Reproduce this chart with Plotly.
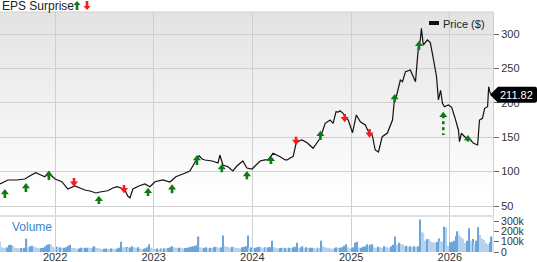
import base64
import pandas as pd
import plotly.graph_objects as go

# ---------------- data ----------------
price_dates = [
    "2021-06-11", "2021-07-10", "2021-08-12", "2021-09-11", "2021-09-29", "2021-10-21", "2021-11-09",
    "2021-11-24", "2021-12-09", "2021-12-20", "2022-01-01", "2022-01-26", "2022-02-17", "2022-03-15",
    "2022-04-03", "2022-04-21", "2022-05-10", "2022-06-01", "2022-06-16", "2022-07-01", "2022-07-15",
    "2022-08-03", "2022-08-18", "2022-09-02", "2022-09-16", "2022-09-27", "2022-10-05", "2022-10-16",
    "2022-11-07", "2022-11-29", "2022-12-18", "2023-01-06", "2023-01-20", "2023-02-04", "2023-03-02",
    "2023-03-24", "2023-04-19", "2023-05-15", "2023-06-03", "2023-06-18", "2023-06-29", "2023-07-10",
    "2023-08-05", "2023-08-27", "2023-09-03", "2023-09-14", "2023-10-03", "2023-10-21", "2023-11-05",
    "2023-11-16", "2023-11-27", "2023-12-12", "2023-12-31", "2024-01-15", "2024-01-30", "2024-02-17",
    "2024-02-28", "2024-03-18", "2024-04-02", "2024-04-13", "2024-05-02", "2024-05-09", "2024-05-20",
    "2024-05-31", "2024-06-11", "2024-06-22", "2024-07-03", "2024-07-22", "2024-08-13", "2024-08-28",
    "2024-09-08", "2024-09-27", "2024-10-15", "2024-10-26", "2024-11-06", "2024-11-14", "2024-11-21",
    "2024-12-02", "2024-12-21", "2025-01-06", "2025-01-20", "2025-02-04", "2025-02-22", "2025-03-06",
    "2025-03-20", "2025-03-31", "2025-04-12", "2025-04-26", "2025-05-15", "2025-06-03", "2025-06-10",
    "2025-06-17", "2025-07-02", "2025-07-10", "2025-07-21", "2025-08-08", "2025-08-19", "2025-08-27",
    "2025-09-07", "2025-09-14", "2025-09-18", "2025-09-25", "2025-10-10", "2025-10-21", "2025-11-02",
    "2025-11-13", "2025-11-20", "2025-11-28", "2025-12-05", "2025-12-12", "2025-12-27", "2026-01-08",
    "2026-01-19", "2026-02-02", "2026-02-06", "2026-02-13", "2026-02-25", "2026-03-08", "2026-03-19",
    "2026-03-30", "2026-04-14", "2026-04-21", "2026-05-02", "2026-05-10", "2026-05-21", "2026-05-25",
    "2026-05-29", "2026-06-05",
]
price_values = [
    82.0, 87.8, 87.8, 89.2, 93.6, 98.4, 95.1,
    92.6, 99.9, 93.6, 89.2, 85.3, 74.7, 79.1,
    76.2, 73.3, 71.8, 68.9, 70.3, 71.8, 72.2,
    76.2, 78.1, 76.2, 73.3, 64.5, 61.6, 74.7,
    79.1, 82.0, 78.1, 85.3, 86.3, 87.8, 84.9,
    92.6, 96.5, 100.9, 114.0, 123.1, 118.3, 116.9,
    115.4, 112.5, 124.1, 109.6, 107.1, 100.9, 108.1,
    112.5, 115.4, 105.2, 103.8, 109.6, 115.4, 116.9,
    116.9, 126.6, 124.1, 121.7, 116.9, 116.9, 119.8,
    121.7, 141.1, 144.5, 145.9, 142.0, 133.9, 141.6,
    148.4, 170.2, 175.0, 170.2, 187.1, 186.6, 188.5,
    184.7, 175.0, 156.5, 182.3, 172.5, 167.7, 158.0,
    153.2, 131.4, 128.5, 150.7, 156.1, 175.0, 204.1,
    208.9, 233.1, 230.7, 245.2, 247.7, 237.9, 230.7,
    281.5, 291.3, 308.3, 284.0, 291.3, 287.4, 262.2,
    237.9, 204.1, 218.2, 199.3, 194.3, 196.8, 193.5,
    179.8, 160.5, 143.5, 155.7, 150.7, 148.4, 145.9,
    141.1, 138.7, 175.0, 177.5, 192.0, 194.3, 223.4,
    216.1, 211.82,
]
last_price = 211.82

eps_dates = ["2021-06-29", "2021-09-15", "2021-12-09", "2022-03-12", "2022-06-12", "2022-09-13",
             "2022-12-11", "2023-03-10", "2023-06-10", "2023-09-10", "2023-12-12", "2024-03-10",
             "2024-06-11", "2024-09-09", "2024-12-08", "2025-03-10", "2025-06-11", "2025-09-09",
             "2025-12-08", "2026-03-09"]
eps_tip = [74.7, 83.4, 100.9, 78.1, 65.0, 68.5, 76.6, 81.5, 124.1, 111.0, 100.9, 123.1,
           138.7, 159.4, 171.7, 149.3, 212.8, 290.3, 187.1, 153.2]
eps_base = [61.6, 70.3, 87.8, 90.7, 52.9, 80.5, 64.5, 68.5, 109.6, 99.0, 88.8, 111.0,
            150.7, 145.9, 183.7, 161.9, 201.2, 276.7, 153.2, 140.1]
eps_beat = [True, True, True, False, True, False, True, True, True, True, True, True,
            False, True, False, False, True, True, True, True]
eps_dashed = [False] * 18 + [True, True]

volume_start = "2021-06-11"
volumes_k = [
    100, 45, 38, 35, 45, 67, 70, 60, 40, 38,
    35, 38, 36, 40, 130, 45, 55, 60, 50, 45,
    38, 35, 38, 40, 55, 70, 75, 72, 50, 35,
    50, 40, 45, 38, 40, 45, 60, 70, 40, 38,
    35, 30, 35, 40, 38, 40, 42, 40, 38, 45,
    55, 40, 38, 35, 30, 32, 35, 30, 28, 35,
    32, 30, 35, 40, 100, 45, 45, 48, 40, 45,
    55, 45, 40, 45, 35, 30, 32, 35, 45, 75,
    40, 35, 30, 35, 30, 35, 32, 35, 35, 38,
    45, 55, 45, 40, 38, 42, 40, 35, 38, 40,
    45, 50, 55, 60, 65, 150, 45, 40, 42, 45,
    35, 40, 38, 45, 50, 48, 40, 45, 160, 55,
    50, 45, 40, 50, 45, 40, 38, 35, 45, 50,
    55, 160, 40, 45, 38, 40, 45, 50, 45, 42,
    45, 42, 45, 48, 110, 45, 40, 35, 38, 40,
    35, 40, 35, 42, 38, 45, 50, 90, 42, 45,
    55, 40, 45, 38, 40, 42, 38, 35, 40, 38,
    110, 55, 45, 42, 40, 35, 32, 38, 45, 40,
    42, 45, 60, 75, 45, 35, 40, 45, 90, 100,
    40, 42, 50, 55, 75, 60, 70, 75, 45, 40,
    50, 45, 40, 55, 50, 45, 40, 55, 70, 150,
    70, 90, 80, 70, 55, 60, 50, 55, 50, 55,
    50, 55, 315, 190, 185, 110, 125, 125, 100, 95,
    90, 100, 130, 105, 100, 245, 240, 60, 95, 100,
    110, 155, 200, 160, 145, 125, 90, 110, 230, 110,
    125, 75, 110, 240, 165, 130, 115, 90, 75, 95, 150,
]
price_ticks = [50, 100, 150, 200, 250, 300]
volume_ticks = [0, 100000, 200000, 300000]
volume_ticktext = ["0", "100k", "200k", "300k"]

# ---------------- layout constants ----------------
W, H = 537, 262
ML, MR, MT, MB = 0, 44, 12, 10
PLOT_H = H - MT - MB
PRICE_BOTTOM_PX = 215
VOL_TOP_PX = 217
price_dom = [(H - MB - PRICE_BOTTOM_PX) / PLOT_H, 1.0]
vol_dom = [0.0, (H - MB - VOL_TOP_PX) / PLOT_H]
Y_RANGE = [36.92, 331.98]
V_RANGE = [0, 338700]
X_RANGE = ["2021-06-11", "2026-06-10"]
price_px = PRICE_BOTTOM_PX - MT
k = (Y_RANGE[1] - Y_RANGE[0]) / price_px  # price units per pixel

FONT = "Liberation Sans, Arial, sans-serif"
GRID = "#cfcfcf"
GREEN = "#0b7d12"
RED = "#f41c1c"

fig = go.Figure()

# price line
fig.add_trace(go.Scatter(x=price_dates, y=price_values, mode="lines",
                         line=dict(color="#111111", width=1.2), xaxis="x", yaxis="y",
                         hoverinfo="skip", showlegend=False))

# EPS arrows
HEAD_OFF = 3.5
groups = {
    "up_solid": dict(color=GREEN, dash="solid", sym="triangle-up"),
    "up_dash": dict(color=GREEN, dash="dot", sym="triangle-up"),
    "down_solid": dict(color=RED, dash="solid", sym="triangle-down"),
}
for key, st in groups.items():
    sx, sy, hx, hy = [], [], [], []
    for d, t, b, beat, dashed in zip(eps_dates, eps_tip, eps_base, eps_beat, eps_dashed):
        g = ("up_dash" if dashed else "up_solid") if beat else "down_solid"
        if g != key:
            continue
        sgn = 1 if beat else -1
        center = t - sgn * HEAD_OFF * k
        sx += [d, d, None]
        sy += [center, b, None]
        hx.append(d)
        hy.append(center)
    if not hx:
        continue
    fig.add_trace(go.Scatter(x=sx, y=sy, mode="lines",
                             line=dict(color=st["color"], width=2.6, dash=st["dash"]),
                             xaxis="x", yaxis="y", hoverinfo="skip", showlegend=False))
    fig.add_trace(go.Scatter(x=hx, y=hy, mode="markers",
                             marker=dict(symbol=st["sym"], size=7, color=st["color"], line=dict(width=0)),
                             xaxis="x", yaxis="y", hoverinfo="skip", showlegend=False))

# volume bars
vol_dates = pd.date_range(volume_start, periods=len(volumes_k), freq="7D")
vol = [v * 1000 for v in volumes_k]
colors = ["#b7d2ec"] + ["#6aa6dc" if volumes_k[i] > volumes_k[i - 1] else "#b7d2ec"
                         for i in range(1, len(volumes_k))]
fig.add_trace(go.Bar(x=vol_dates, y=vol, marker=dict(color=colors, line=dict(width=0)),
                     xaxis="x2", yaxis="y2", hoverinfo="skip", showlegend=False))

# gradient background for price panel
svg = ('<svg xmlns="http://www.w3.org/2000/svg" width="10" height="100" preserveAspectRatio="none">'
       '<defs><linearGradient id="g" x1="0" y1="0" x2="0" y2="1">'
       '<stop offset="0" stop-color="#e3e3e3"/><stop offset="0.92" stop-color="#ffffff"/>'
       '</linearGradient></defs><rect width="10" height="100" fill="url(#g)"/></svg>')
src = "data:image/svg+xml;base64," + base64.b64encode(svg.encode()).decode()

fig.update_layout(
    width=W, height=H,
    margin=dict(l=ML, r=MR, t=MT, b=MB, pad=0, autoexpand=False),
    paper_bgcolor="white", plot_bgcolor="rgba(0,0,0,0)",
    font=dict(family=FONT, size=11, color="#333333"),
    showlegend=False, bargap=0.3,
    images=[dict(source=src, xref="paper", yref="paper", x=0, y=1, sizex=1,
                 sizey=price_dom[1] - price_dom[0], xanchor="left", yanchor="top",
                 sizing="stretch", layer="below")],
    xaxis=dict(domain=[0, 1], anchor="y", range=X_RANGE, type="date", automargin=False,
               showticklabels=False, ticks="", showgrid=True, gridcolor=GRID, gridwidth=1,
               tick0="2022-01-01", dtick="M12", zeroline=False,
               showline=True, linecolor="#dedede", linewidth=2),
    xaxis2=dict(domain=[0, 1], anchor="y2", range=X_RANGE, type="date", matches="x",
                automargin=False, showticklabels=True, tickformat="%Y", ticks="",
                ticklabelstandoff=-3, showgrid=True,
                gridcolor=GRID, gridwidth=1, tick0="2022-01-01", dtick="M12",
                zeroline=False, showline=False,
                tickfont=dict(family=FONT, size=11, color="#333333")),
    yaxis=dict(domain=price_dom, anchor="x", side="right", range=Y_RANGE, automargin=False,
               tickvals=price_ticks, showgrid=True, gridcolor=GRID, gridwidth=1,
               ticks="outside", ticklen=5, tickcolor="#666666", zeroline=False,
               showline=True, mirror=True, linecolor=GRID, linewidth=1,
               tickfont=dict(family=FONT, size=11, color="#333333")),
    yaxis2=dict(domain=vol_dom, anchor="x2", side="right", range=V_RANGE, automargin=False,
                tickvals=volume_ticks, ticktext=volume_ticktext, showgrid=False,
                ticks="outside", ticklen=5, tickcolor="#666666", zeroline=False,
                showline=True, linecolor="#dddddd", linewidth=1,
                tickfont=dict(family=FONT, size=10.5, color="#333333")),
)

shapes = []
# top frame line of price panel
shapes.append(dict(type="line", xref="paper", yref="paper", x0=0, x1=1, y0=1, y1=1,
                   line=dict(color=GRID, width=1)))
# Price legend swatch
shapes.append(dict(type="rect", xref="paper", yref="paper",
                   x0=429 / (W - ML - MR), x1=439 / (W - ML - MR),
                   y0=(H - MB - 25) / PLOT_H, y1=(H - MB - 21) / PLOT_H,
                   fillcolor="#111111", line=dict(width=0)))
# EPS Surprise legend arrows (pixel paths)
up_path = "M 0 4.5 L 3.6 0.6 L 1.3 0.6 L 1.3 -4.5 L -1.3 -4.5 L -1.3 0.6 L -3.6 0.6 Z"
down_path = "M 0 -4.5 L 3.6 -0.6 L 1.3 -0.6 L 1.3 4.5 L -1.3 4.5 L -1.3 -0.6 L -3.6 -0.6 Z"
for cx, path, col in [(77, up_path, GREEN), (87, down_path, RED)]:
    shapes.append(dict(type="path", xref="paper", yref="paper",
                       xsizemode="pixel", ysizemode="pixel",
                       xanchor=cx / (W - ML - MR), yanchor=(H - MB - 5.5) / PLOT_H,
                       path=path, fillcolor=col, line=dict(width=0)))
# last price tag
shapes.append(dict(type="path", xref="paper", yref="y", xsizemode="pixel", ysizemode="pixel",
                   xanchor=1, yanchor=last_price,
                   path="M -3 0 L 5 -8 L 42 -8 Q 44 -8 44 -6 L 44 6 Q 44 8 42 8 L 5 8 Z",
                   fillcolor="#000000", line=dict(width=0), layer="above"))
fig.update_layout(shapes=shapes)

annotations = [
    dict(text="EPS Surprise", xref="paper", yref="paper", x=0, y=(H - MB - 6.5) / PLOT_H,
         xanchor="left", yanchor="middle", showarrow=False,
         font=dict(family=FONT, size=12, color="#222222")),
    dict(text="Price ($)", xref="paper", yref="paper", x=441 / (W - ML - MR),
         y=(H - MB - 23.5) / PLOT_H, xanchor="left", yanchor="middle", showarrow=False,
         font=dict(family=FONT, size=11, color="#222222")),
    dict(text="Volume", xref="paper", yref="paper", x=10 / (W - ML - MR),
         y=(H - MB - 226.5) / PLOT_H, xanchor="left", yanchor="middle", showarrow=False,
         font=dict(family=FONT, size=12, color="#3d85c6")),
    dict(text=f"{last_price:.2f}", xref="paper", yref="y", x=1, y=last_price,
         xanchor="left", yanchor="middle", xshift=5, showarrow=False,
         font=dict(family=FONT, size=11, color="#ffffff")),
]
fig.update_layout(annotations=annotations)

fig.write_html("out.html", config=dict(displayModeBar=False))
